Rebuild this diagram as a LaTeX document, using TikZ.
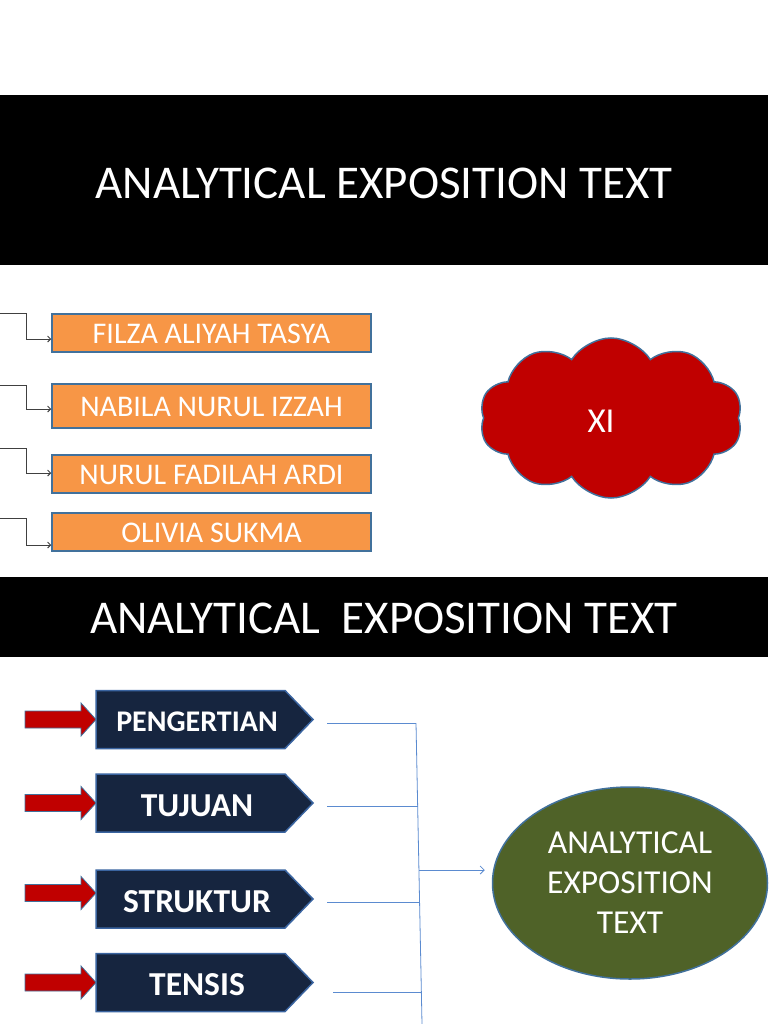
\documentclass[tikz,border=0pt]{standalone}
\usepackage{fontspec}
\setmainfont{Carlito}
\usetikzlibrary{shapes.symbols,shapes.geometric,arrows.meta,calc,backgrounds}
\definecolor{orng}{HTML}{F79646}
\definecolor{bord}{HTML}{41719C}
\definecolor{navy}{HTML}{16253F}
\definecolor{navyb}{HTML}{3A64A0}
\definecolor{olive}{HTML}{4F6228}
\definecolor{dred}{HTML}{C00000}
\definecolor{bline}{HTML}{5B8BD0}
\definecolor{gline}{HTML}{404040}
\newcommand\pentshape[1]{\filldraw[pent] ($(#1.center)+(-101,-29)$) -- ($(#1.center)+(88,-29)$) -- ($(#1.center)+(116,0)$) -- ($(#1.center)+(88,29)$) -- ($(#1.center)+(-101,29)$) -- cycle;}
\newcommand\redblock[2]{\filldraw[redarr] ($(#1.center)+(-172,#2-8.5)$) -- ($(#1.center)+(-116,#2-8.5)$) -- ($(#1.center)+(-116,#2-16.5)$) -- ($(#1.center)+(-101,#2)$) -- ($(#1.center)+(-116,#2+16.5)$) -- ($(#1.center)+(-116,#2+8.5)$) -- ($(#1.center)+(-172,#2+8.5)$) -- cycle;}
\begin{document}
\begin{tikzpicture}[x=1pt,y=-1pt,
 band/.style={rectangle,fill=black,text=white,minimum width=768pt,inner sep=0,font=\fontsize{47}{50}\selectfont},
 namebox/.style={rectangle,fill=orng,draw=bord,line width=1.5pt,minimum width=319pt,text=white,inner sep=0,text height=21pt,font=\fontsize{30}{32}\selectfont},
 elbow/.style={draw=gline,line width=0.9pt,-{Straight Barb[length=3pt,width=6pt]}},
 ptext/.style={text=white,inner sep=0,text height=26.5pt,font=\bfseries\fontsize{33.5}{36}\selectfont},
 pent/.style={fill=navy,draw=navyb,line width=1.5pt},
 redarr/.style={fill=dred,draw=bord,line width=0.8pt},
 busline/.style={draw=bline,line width=0.8pt},
]
\useasboundingbox (0,0) rectangle (768,1024);
\begin{scope}[on background layer]
\fill[white] (0,0) rectangle (768,1024);
\end{scope}

% header bands
\node[band,minimum height=170pt,text height=38pt] (h1) at (384,180) {ANALYTICAL EXPOSITION TEXT};
\node[band,minimum height=80pt,text height=34pt] (h2) at (384,617) {ANALYTICAL\ \ EXPOSITION TEXT};

% name boxes
\node[namebox,minimum height=38pt] (b1) at (211.5,333) {FILZA ALIYAH TASYA};
\node[namebox,minimum height=44pt] (b2) at (211.5,406) {NABILA NURUL IZZAH};
\node[namebox,minimum height=38pt] (b3) at (211.5,474) {NURUL FADILAH ARDI};
\node[namebox,minimum height=38pt] (b4) at (211.5,532) {OLIVIA SUKMA};

\coordinate (s1) at (0,313); \coordinate (e1) at (26,339);
\coordinate (s2) at (0,385); \coordinate (e2) at (26,409);
\coordinate (s3) at (0,448); \coordinate (e3) at (26,473);
\coordinate (s4) at (0,518); \coordinate (e4) at (26,545);
\foreach \i in {1,2,3,4}{
  \draw[elbow] (s\i) -- (e\i |- s\i) -- (e\i) -- (b\i.west |- e\i);
}

% cloud
\node[cloud,cloud puffs=10,cloud puff arc=115,cloud ignores aspect,minimum width=263pt,minimum height=160pt,fill=dred,draw=bord,line width=1.5pt,text=white,text height=28pt,font=\fontsize{35}{36}\selectfont] (xi) at (611,418) {\hspace*{-20pt}XI};

% pentagons
\node[ptext,text height=24pt,font=\bfseries\fontsize{30}{32}\selectfont] (p1) at (197,719.5) {PENGERTIAN};
\node[ptext] (p2) at (197,803) {TUJUAN};
\node[ptext,text height=27.5pt] (p3) at (197,899) {STRUKTUR};
\node[ptext] (p4) at (197,982.5) {TENSIS};
\begin{scope}[on background layer]
\foreach \p in {p1,p2,p3,p4}{\pentshape{\p}}
\redblock{p1}{0}
\redblock{p2}{0}
\redblock{p3}{-6}
\redblock{p4}{0}
\end{scope}

% ellipse
\node[ellipse,fill=olive,draw=bord,line width=1.5pt,minimum width=275pt,minimum height=192pt,text=white,align=center,inner sep=0,font=\fontsize{33.5}{40}\selectfont] (ell) at (630,883) {ANALYTICAL\\EXPOSITION\\TEXT};

% bus connectors
\coordinate (bt) at (416,723);
\coordinate (bb) at (422,1024);
\draw[busline] ($(p1.center)+(130,3.5)$) -- (bt);
\draw[busline] (bt) -- (bb);
\draw[busline] ($(p2.center)+(130,3)$) -- (417.7,806);
\draw[busline] ($(p3.center)+(130,3)$) -- (419.6,902);
\draw[busline] ($(p4.center)+(136,9.5)$) -- (421.4,992);
\coordinate (bm) at (419,870);
\draw[busline,-{Straight Barb[length=4pt,width=8pt]},shorten >=7pt] (bm) -- (ell.west |- bm);
\end{tikzpicture}
\end{document}
